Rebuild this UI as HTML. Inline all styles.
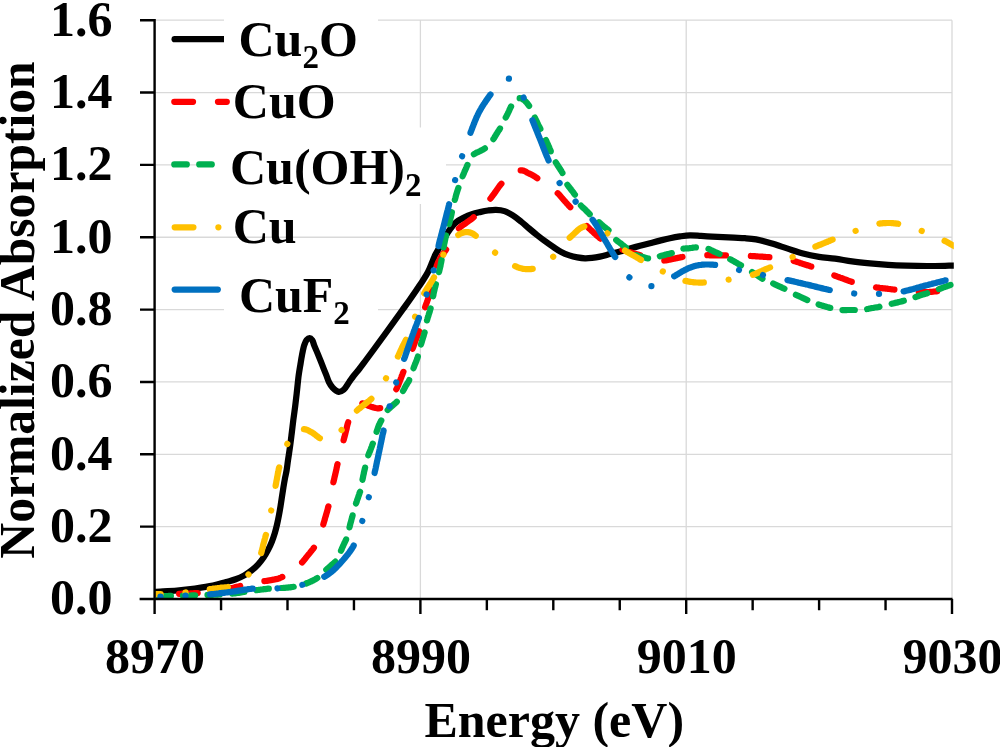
<!DOCTYPE html><html><head><meta charset="utf-8"><title>XANES</title><style>html,body{margin:0;padding:0;background:#fff;}svg{display:block;}text{font-family:"Liberation Serif",serif;font-weight:bold;fill:#000;}.gs{filter:grayscale(1);}</style></head><body>
<svg width="1000" height="747" viewBox="0 0 1000 747">
<rect width="1000" height="747" fill="#fff"/>
<path d="M154.6 526.65H952.0M154.6 454.30H952.0M154.6 381.95H952.0M154.6 309.60H952.0M154.6 237.25H952.0M154.6 164.90H952.0M154.6 92.55H952.0M154.6 20.20H952.0M420.40 20.2V599.0M686.20 20.2V599.0M952.00 20.2V599.0" stroke="#d9d9d9" stroke-width="1.3" fill="none"/>
<defs><clipPath id="pc"><rect x="154.2" y="0" width="799.6" height="603.0"/></clipPath></defs>
<g clip-path="url(#pc)" fill="none" stroke-width="6.24" stroke-linecap="round" stroke-linejoin="round">
<path d="M151.00 592.20C152.33 592.07 153.13 591.95 155.00 591.80C159.38 591.45 170.04 591.09 177.00 590.50C183.31 589.96 189.01 589.31 195.00 588.50C201.01 587.68 207.49 586.79 213.00 585.60C217.77 584.57 222.16 583.12 226.20 582.00C229.63 581.05 232.65 580.42 235.70 579.30C238.68 578.21 241.59 576.92 244.30 575.40C246.95 573.91 249.47 572.17 251.80 570.30C254.09 568.46 256.23 566.44 258.20 564.30C260.16 562.17 261.96 559.89 263.60 557.50C265.26 555.09 266.74 552.51 268.10 549.90C269.47 547.28 270.69 544.58 271.80 541.80C272.93 538.98 273.92 536.03 274.80 533.10C275.68 530.17 276.40 527.20 277.10 524.20C277.80 521.17 278.42 518.08 279.00 515.00C279.58 511.91 280.10 508.79 280.60 505.70C281.10 502.63 281.53 499.55 282.00 496.50C282.46 493.48 282.91 490.48 283.40 487.50C283.88 484.55 284.36 481.59 284.90 478.70C285.43 475.89 286.10 473.31 286.60 470.40C287.15 467.21 287.48 463.90 288.00 460.30C288.60 456.15 289.38 451.37 290.00 446.90C290.62 442.44 291.15 437.96 291.70 433.50C292.25 429.06 292.73 424.64 293.30 420.20C293.87 415.74 294.53 411.27 295.10 406.80C295.67 402.34 296.15 398.21 296.70 393.40C297.34 387.80 298.00 380.36 298.70 375.20C299.22 371.36 299.75 368.54 300.30 365.20C300.85 361.84 301.33 358.45 302.00 355.10C302.67 351.75 303.38 347.84 304.30 345.10C304.98 343.08 305.57 341.22 306.60 340.00C307.43 339.02 308.65 337.97 309.60 338.00C310.51 338.03 311.50 339.05 312.20 340.00C313.11 341.23 313.32 343.13 314.10 345.10C315.20 347.89 316.93 351.75 318.30 355.10C319.67 358.45 320.96 361.84 322.30 365.20C323.63 368.54 325.12 372.18 326.30 375.20C327.27 377.68 327.83 379.91 328.90 382.00C329.92 383.99 330.95 385.91 332.50 387.50C334.16 389.21 336.68 391.60 338.70 391.80C340.43 391.97 342.24 390.87 343.80 389.60C345.83 387.96 347.50 384.38 349.20 382.00C350.71 379.88 351.97 377.97 353.50 376.00C355.07 373.97 356.70 372.28 358.50 370.00C360.78 367.12 363.51 363.34 366.00 360.00C368.48 356.67 370.95 353.34 373.40 350.00C375.85 346.67 378.27 343.33 380.70 340.00C383.13 336.67 385.58 333.34 388.00 330.00C390.41 326.67 392.80 323.33 395.20 320.00C397.60 316.67 400.00 313.33 402.40 310.00C404.80 306.67 407.24 303.35 409.60 300.00C411.94 296.68 414.23 293.34 416.50 290.00C418.76 286.67 421.19 283.17 423.20 280.00C424.97 277.21 426.53 274.87 428.00 272.00C429.59 268.90 431.03 265.02 432.30 262.00C433.34 259.52 433.88 257.71 435.10 255.20C436.72 251.86 439.38 247.68 441.50 243.90C443.62 240.11 445.38 236.08 447.80 232.50C450.22 228.92 453.04 224.97 456.00 222.40C458.51 220.23 461.28 218.98 464.00 217.60C466.62 216.26 469.30 215.12 472.00 214.20C474.63 213.30 477.32 212.72 480.00 212.10C482.66 211.49 485.32 210.88 488.00 210.50C490.66 210.12 493.30 209.71 496.00 209.80C498.80 209.89 501.75 210.21 504.50 211.10C507.36 212.03 510.10 213.71 512.80 215.40C515.64 217.18 518.40 219.43 521.10 221.60C523.83 223.79 526.42 226.24 529.10 228.50C531.75 230.74 534.41 232.96 537.10 235.10C539.77 237.22 542.49 239.31 545.20 241.30C547.85 243.24 550.51 245.10 553.20 246.90C555.85 248.67 558.46 250.57 561.20 252.00C563.83 253.38 566.57 254.49 569.30 255.40C571.94 256.28 574.64 256.91 577.30 257.40C579.88 257.87 582.49 258.23 585.00 258.30C587.39 258.37 589.60 258.16 592.00 257.90C594.58 257.62 597.20 257.19 600.00 256.60C603.16 255.93 606.67 254.87 610.00 254.00C613.33 253.13 616.67 252.31 620.00 251.40C623.34 250.48 626.66 249.43 630.00 248.50C633.33 247.57 636.66 246.68 640.00 245.80C643.33 244.92 646.67 244.07 650.00 243.20C653.33 242.33 656.66 241.43 660.00 240.60C663.33 239.77 666.66 238.90 670.00 238.20C673.32 237.50 676.66 236.88 680.00 236.40C683.33 235.92 686.58 235.39 690.00 235.30C693.58 235.20 697.33 235.68 701.00 235.90C704.67 236.12 708.33 236.40 712.00 236.60C715.67 236.80 719.33 236.92 723.00 237.10C726.67 237.28 730.33 237.52 734.00 237.70C737.67 237.88 741.34 237.92 745.00 238.20C748.67 238.48 752.08 238.69 756.00 239.40C760.64 240.24 765.94 241.74 771.00 243.20C776.27 244.72 781.67 246.67 787.00 248.40C792.33 250.13 797.63 252.19 803.00 253.60C808.29 254.98 813.65 255.97 819.00 256.80C824.32 257.63 829.60 257.85 835.00 258.60C840.59 259.37 846.24 260.61 852.00 261.40C857.90 262.21 864.00 262.83 870.00 263.40C876.00 263.97 882.00 264.43 888.00 264.80C894.00 265.17 899.77 265.40 906.00 265.60C912.73 265.81 919.92 265.98 927.00 266.00C934.25 266.02 943.28 265.80 949.00 265.70C952.66 265.63 955.00 265.57 958.00 265.50" stroke="#000000"/>
<path d="M151.0 594.0L152.3 594.0L153.6 594.0L154.2 594.0M179.1 593.8L180.6 593.8L181.8 593.7L183.1 593.7L184.3 593.7L185.6 593.6L186.8 593.6L188.0 593.5L189.3 593.5L190.5 593.4L191.8 593.4L193.0 593.3L194.3 593.2L195.5 593.2L196.7 593.1L197.7 593.1M222.2 590.1L223.4 589.9L224.6 589.6L225.8 589.3L227.1 589.1L228.3 588.8L229.5 588.5L230.7 588.2L231.9 588.0L233.2 587.7L234.3 587.4L235.5 587.1L236.7 586.8L238.0 586.5L239.2 586.2L240.2 585.9M264.4 581.1L265.6 581.0L266.9 580.8L268.1 580.6L269.5 580.4L270.9 580.2L272.3 579.9L273.5 579.7L274.8 579.4L276.1 579.2L277.3 578.9L278.7 578.5L280.0 578.0L281.1 577.5L282.3 576.9M302.1 562.4L302.9 561.5L303.7 560.5L304.5 559.6L305.3 558.6L306.0 557.6L306.8 556.6L307.6 555.6L308.4 554.6L309.2 553.7L310.0 552.8L310.7 551.8L311.5 550.9L312.3 549.9L313.1 548.9L313.8 547.9L313.9 547.8M323.3 524.5L323.6 523.3L324.0 522.1L324.3 521.0L324.7 519.8L325.0 518.4L325.4 517.0L325.8 515.9L326.1 514.7L326.5 513.3L326.9 512.0L327.3 510.6L327.6 509.5L327.9 508.3L328.2 507.0L328.4 506.5M333.4 482.3L333.7 481.1L334.0 479.7L334.3 478.5L334.5 477.3L334.9 475.9L335.2 474.5L335.5 473.3L335.8 472.0L336.1 470.6L336.4 469.4L336.6 468.2L336.9 466.9L337.1 465.7L337.4 464.5L337.5 464.2M343.6 440.3L343.9 439.0L344.3 437.7L344.6 436.5L344.9 435.4L345.2 434.2L345.5 433.0L345.8 431.8L346.1 430.6L346.4 429.4L346.7 428.2L346.9 427.0L347.2 425.7L347.5 424.5L347.9 423.3L348.2 422.2M362.3 403.3L363.5 403.5L364.8 404.0L365.9 404.6L367.0 405.1L368.3 405.7L369.5 406.1L370.8 406.6L372.0 407.0L373.1 407.4L374.5 407.7L375.7 408.0L377.1 408.3L378.5 408.3L379.9 408.1L380.2 408.1M396.3 389.2L397.0 388.0L397.5 386.8L398.0 385.7L398.5 384.5L398.9 383.4L399.4 382.2L399.8 381.1L400.3 379.9L400.8 378.6L401.3 377.4L401.7 376.1L402.3 374.8L402.7 373.6L403.2 372.3L403.4 371.9M412.6 348.7L413.0 347.6L413.5 346.3L413.9 345.2L414.4 343.9L414.8 342.6L415.3 341.3L415.8 339.9L416.2 338.8L416.7 337.5L417.3 336.2L417.8 334.9L418.2 333.7L418.6 332.5L419.0 331.2L419.0 331.2M425.1 307.2L425.5 306.0L425.9 304.8L426.3 303.7L426.8 302.4L427.3 301.0L427.8 299.7L428.2 298.4L428.6 297.2L429.0 296.0L429.4 294.6L429.7 293.5L430.1 292.3L430.4 291.1L430.7 289.9L430.8 289.6M436.8 265.6L437.3 264.3L437.7 263.2L438.3 262.1L438.9 260.8L439.6 259.5L440.1 258.5L440.7 257.4L441.4 256.4L442.1 255.2L442.9 254.1L443.7 252.9L444.6 251.8L445.3 250.8L446.0 249.7L446.1 249.6M458.9 228.5L459.9 227.5L460.8 226.7L462.0 225.8L463.1 225.0L464.3 224.2L465.4 223.4L466.4 222.7L467.5 221.8L468.7 221.0L469.8 220.2L470.9 219.4L471.9 218.7L472.9 217.9L473.7 217.2M490.4 198.6L491.2 197.6L492.0 196.5L492.8 195.5L493.6 194.4L494.4 193.3L495.2 192.2L496.0 191.0L496.7 190.0L497.4 189.0L498.1 188.0L498.8 187.0L499.5 186.0L500.3 185.0L501.0 184.1L501.4 183.7M520.7 170.3L521.9 170.4L523.1 170.6L524.4 171.0L525.7 171.6L526.9 172.4L528.0 173.0L529.3 173.6L530.4 174.2L531.6 174.7L532.7 175.3L533.8 175.9L534.8 176.5L536.0 177.3L537.2 178.1L537.3 178.2M557.7 193.2L558.6 194.0L559.4 194.9L560.2 195.9L561.0 196.8L561.8 197.7L562.6 198.6L563.4 199.6L564.2 200.5L565.0 201.4L565.8 202.3L566.6 203.2L567.5 204.1L568.3 205.1L569.1 206.0L570.0 206.9L570.3 207.2M586.8 226.0L587.7 226.9L588.5 227.8L589.4 228.7L590.3 229.5L591.2 230.3L592.1 231.2L593.0 232.0L593.9 232.8L594.8 233.7L595.7 234.5L596.6 235.3L597.5 236.1L598.5 236.9L599.4 237.7L600.4 238.5L600.5 238.6M622.5 249.7L623.7 250.1L624.8 250.5L626.0 250.9L627.2 251.3L628.3 251.7L629.5 252.0L630.7 252.4L631.9 252.8L633.1 253.2L634.3 253.5L635.5 253.9L636.7 254.2L637.8 254.6L639.0 254.9L640.2 255.3M664.3 260.5L665.7 260.4L666.9 260.2L668.1 259.9L669.3 259.7L670.5 259.4L671.7 259.1L672.9 258.9L674.1 258.7L675.4 258.4L676.6 258.2L677.8 257.9L679.0 257.7L680.3 257.4L681.5 257.2L682.5 257.0M707.3 255.2L708.6 255.2L709.9 255.3L711.1 255.3L712.3 255.3L713.6 255.3L714.8 255.4L716.1 255.4L717.3 255.4L718.6 255.4L719.8 255.4L721.1 255.4L722.3 255.4L723.6 255.4L724.8 255.4L725.9 255.4M750.9 256.0L752.3 256.1L753.6 256.1L754.8 256.2L756.1 256.3L757.4 256.4L758.7 256.5L760.0 256.6L761.2 256.7L762.5 256.7L763.7 256.8L765.0 256.9L766.3 257.0L767.5 257.1L768.8 257.2L769.4 257.2M793.7 260.9L795.0 261.3L796.2 261.6L797.3 262.0L798.5 262.4L799.7 262.8L800.9 263.3L802.0 263.6L803.2 264.0L804.4 264.4L805.6 264.7L806.7 265.1L807.9 265.4L809.1 265.8L810.3 266.2L811.3 266.5M834.3 275.5L835.6 275.9L836.8 276.4L837.9 276.8L839.1 277.2L840.2 277.6L841.4 278.0L842.5 278.4L843.7 278.9L844.8 279.3L846.0 279.7L847.1 280.1L848.3 280.6L849.4 281.0L850.6 281.4L851.7 281.8L851.8 281.8M876.0 287.4L877.2 287.6L878.4 287.7L879.7 287.9L880.9 288.0L882.1 288.1L883.3 288.3L884.6 288.4L885.8 288.6L887.0 288.7L888.2 288.9L889.5 289.0L890.7 289.2L891.9 289.3L893.2 289.5L894.4 289.6L894.4 289.6M918.8 292.1L920.0 292.1L921.3 292.1L922.5 292.1L923.8 292.1L925.0 292.1L926.3 292.1L927.5 292.0L928.7 292.0L930.1 291.9L931.6 291.8L933.0 291.7L934.4 291.5L935.6 291.4L936.9 291.3L937.3 291.2" stroke="#ff0000"/>
<path d="M158.6 596.0L159.8 596.0L161.1 596.0L162.4 596.0L163.7 596.0L165.0 596.0L166.3 596.0L167.7 596.0L168.9 595.9L170.2 595.9L170.9 595.9M183.0 595.7L184.2 595.6L185.4 595.6L186.7 595.6L188.1 595.5L189.5 595.5L190.8 595.5L192.1 595.4L193.3 595.4L194.5 595.4L195.2 595.3M207.5 594.9L208.7 594.9L210.1 594.8L211.4 594.8L212.6 594.8L213.8 594.7L215.1 594.7L216.3 594.6L217.6 594.6L218.9 594.5L219.8 594.5M232.1 593.6L233.5 593.4L234.8 593.3L236.1 593.1L237.3 592.9L238.6 592.8L239.9 592.6L241.1 592.4L242.4 592.2L243.7 592.0L244.4 591.9M256.6 590.2L257.9 590.0L259.1 589.8L260.3 589.7L261.6 589.5L262.8 589.4L264.0 589.2L265.4 589.1L266.8 588.9L268.2 588.7L268.8 588.7M281.1 588.0L282.5 588.0L283.7 587.9L284.9 587.8L286.4 587.7L287.6 587.6L288.8 587.4L290.1 587.3L291.4 587.1L292.6 587.0L293.7 586.8M306.1 583.5L307.3 583.0L308.4 582.6L309.5 582.1L310.8 581.5L312.0 581.0L313.2 580.4L314.3 579.8L315.5 579.2L316.7 578.4L317.3 578.0M326.3 569.8L327.2 568.9L328.1 568.1L329.2 567.2L330.1 566.4L331.0 565.5L331.9 564.7L332.8 564.0L333.8 563.2L334.7 562.3L335.4 561.6M341.0 550.7L341.6 549.5L342.0 548.3L342.5 547.2L343.0 546.1L343.5 545.0L344.1 543.7L344.7 542.5L345.3 541.2L345.8 540.1L346.1 539.4M349.5 527.4L349.8 526.1L350.1 524.8L350.4 523.6L350.7 522.4L351.1 521.2L351.4 519.9L351.7 518.7L352.1 517.4L352.4 516.2L352.6 515.4M356.0 503.5L356.4 502.4L356.8 501.2L357.2 499.9L357.7 498.6L358.1 497.5L358.5 496.1L359.0 494.8L359.5 493.4L359.8 492.2L360.0 491.9M362.5 479.8L362.7 478.6L363.0 477.3L363.2 476.0L363.5 474.8L363.8 473.6L364.0 472.3L364.3 471.1L364.6 469.8L364.9 468.5L365.1 467.6M368.3 455.3L368.7 454.2L369.2 452.8L369.8 451.6L370.3 450.3L370.8 449.0L371.3 447.6L371.8 446.4L372.2 445.1L372.7 443.9L372.8 443.6M376.6 431.8L377.0 430.6L377.4 429.4L377.8 428.2L378.2 427.0L378.7 425.7L379.3 424.5L379.8 423.4L380.4 422.1L381.1 420.9L381.3 420.5M387.7 410.0L388.5 409.1L389.4 408.3L390.4 407.5L391.3 406.7L392.2 405.9L393.3 404.9L394.3 404.0L395.4 403.1L396.3 402.2L396.8 401.7M403.0 391.0L403.7 389.8L404.3 388.7L404.9 387.5L405.6 386.2L406.2 385.2L407.0 384.0L407.7 382.8L408.4 381.8L409.0 380.6L409.2 380.1M413.5 368.2L413.9 367.1L414.4 365.8L414.8 364.7L415.4 363.4L415.9 362.1L416.4 360.8L416.9 359.5L417.4 358.2L417.8 356.9L417.9 356.5M421.0 344.5L421.4 343.1L421.8 341.9L422.2 340.5L422.6 339.2L422.9 338.0L423.4 336.7L423.8 335.3L424.1 334.1L424.5 332.8L424.6 332.5M427.0 320.4L427.4 319.0L427.7 317.8L428.2 316.4L428.6 315.1L428.9 313.9L429.4 312.6L429.8 311.3L430.1 310.1L430.5 308.7L430.6 308.4M433.1 296.3L433.4 295.0L433.6 293.6L433.9 292.3L434.2 291.0L434.5 289.7L434.8 288.4L435.2 287.0L435.5 285.8L435.8 284.6L435.9 284.2M439.0 272.1L439.3 270.8L439.6 269.5L439.9 268.3L440.2 267.1L440.5 265.9L440.7 264.6L440.9 263.4L441.2 262.2L441.4 261.0L441.6 259.9M443.6 247.4L443.9 246.0L444.1 244.8L444.3 243.6L444.6 242.4L444.8 241.2L445.1 240.0L445.3 238.8L445.6 237.5L445.9 236.3L446.1 235.5M449.0 224.1L449.4 222.8L449.7 221.6L450.0 220.3L450.3 219.1L450.6 217.9L450.9 216.7L451.2 215.5L451.5 214.3L451.7 213.1L451.9 212.2M454.8 199.9L455.2 198.6L455.5 197.4L455.8 196.2L456.1 195.0L456.5 193.8L456.9 192.6L457.2 191.4L457.6 190.2L458.0 189.0L458.4 187.9M462.6 176.3L463.0 175.2L463.5 174.1L464.1 172.7L464.6 171.4L465.2 170.1L465.8 168.9L466.3 167.7L466.8 166.4L467.4 165.2L467.5 164.9M473.9 154.3L474.9 153.6L476.1 152.9L477.3 152.3L478.6 151.8L479.8 151.2L480.9 150.6L482.0 150.1L483.1 149.5L484.1 148.9L484.9 148.4M493.4 139.1L494.2 137.9L494.8 136.9L495.4 135.8L496.1 134.7L496.7 133.7L497.5 132.5L498.2 131.3L498.9 130.3L499.6 129.2L500.0 128.5M505.7 117.5L506.3 116.4L506.9 115.3L507.5 114.1L508.1 112.8L508.7 111.6L509.2 110.5L509.7 109.3L510.2 108.2L510.8 107.1L511.1 106.5M519.7 98.2L521.0 98.3L522.3 98.9L523.3 99.6L524.3 100.3L525.3 101.2L526.3 102.2L527.1 103.1L527.8 104.1L528.6 105.2L529.1 105.9M534.8 117.5L535.3 118.6L535.8 119.7L536.5 121.0L537.1 122.2L537.7 123.5L538.3 124.8L538.9 126.0L539.6 127.3L540.2 128.4L540.4 128.9M545.9 140.0L546.4 141.1L546.9 142.3L547.5 143.5L548.0 144.8L548.6 146.1L549.2 147.4L549.7 148.7L550.3 150.0L550.8 151.2L550.8 151.3M555.8 162.4L556.5 163.5L557.1 164.5L557.8 165.6L558.5 166.6L559.1 167.6L559.8 168.6L560.4 169.6L561.1 170.6L561.7 171.7L562.4 172.7L562.5 173.0M567.4 184.7L568.1 185.7L568.8 186.7L569.7 187.8L570.6 188.9L571.3 189.9L572.2 191.0L573.1 192.2L573.9 193.3L574.6 194.3L574.9 194.7M580.9 205.5L581.8 206.5L582.7 207.3L583.6 208.1L584.5 208.9L585.4 209.8L586.3 210.7L587.1 211.6L588.0 212.4L588.8 213.3L589.7 214.2L589.7 214.2M599.0 222.2L599.9 223.0L600.8 223.9L601.7 224.7L602.7 225.5L603.6 226.3L604.5 227.1L605.5 227.8L606.5 228.6L607.4 229.3L608.4 230.1L608.5 230.2M616.2 240.0L617.2 240.9L618.2 241.6L619.1 242.3L620.1 243.0L621.1 243.8L622.2 244.7L623.3 245.6L624.5 246.5L625.4 247.2L626.0 247.7M636.1 255.1L637.3 255.5L638.5 255.9L639.6 256.2L640.8 256.5L642.0 256.7L643.2 257.1L644.3 257.4L645.5 257.8L646.7 258.1L647.9 258.3L648.1 258.3M659.9 256.2L661.3 255.8L662.5 255.5L663.7 255.2L664.9 254.9L666.0 254.5L667.2 254.2L668.4 254.0L669.6 253.7L670.8 253.4L671.8 253.1M683.4 248.7L684.8 248.5L686.0 248.4L687.2 248.4L688.4 248.3L689.6 248.2L690.8 248.0L692.0 247.9L693.2 247.7L694.4 247.5L695.7 247.4L695.9 247.4M708.5 248.9L709.8 249.4L710.9 250.0L712.0 250.5L713.1 251.1L714.2 251.6L715.3 252.1L716.5 252.6L717.6 253.1L718.7 253.6L719.6 254.0M730.2 259.3L731.4 259.9L732.4 260.5L733.5 261.1L734.6 261.7L735.6 262.3L736.9 263.0L738.1 263.7L739.4 264.4L740.4 265.0L741.0 265.3M752.1 272.0L753.1 272.7L754.2 273.4L755.3 274.1L756.5 274.9L757.7 275.6L758.9 276.4L760.0 277.2L761.3 278.0L762.3 278.6L762.4 278.7M773.2 283.5L774.3 284.1L775.4 284.6L776.5 285.1L777.6 285.6L778.7 286.1L779.8 286.6L781.1 287.2L782.4 287.8L783.6 288.3L784.4 288.7M795.9 294.8L797.1 295.3L798.2 295.8L799.4 296.4L800.7 297.0L802.0 297.6L803.1 298.1L804.2 298.6L805.3 299.2L806.4 299.7L807.3 300.1M818.6 304.5L819.9 304.9L821.1 305.3L822.3 305.6L823.4 305.9L824.6 306.3L825.8 306.6L827.0 307.0L828.2 307.3L829.3 307.7L830.3 307.9M842.5 310.1L843.8 310.1L845.1 310.1L846.3 310.1L847.5 310.0L848.7 310.0L849.9 310.0L851.1 310.0L852.3 310.0L853.6 310.0L854.8 310.0L854.8 310.0M867.1 309.0L868.4 308.8L869.8 308.5L871.2 308.2L872.6 308.0L873.8 307.8L875.2 307.5L876.6 307.3L878.0 307.1L879.2 306.9L879.4 306.8M891.7 303.8L892.9 303.5L894.1 303.2L895.3 302.9L896.5 302.7L897.7 302.4L898.8 302.1L900.0 301.8L901.4 301.4L902.6 301.1L903.8 300.8L903.8 300.8M915.5 297.1L916.7 296.6L917.9 296.2L919.0 295.8L920.1 295.4L921.3 295.0L922.7 294.6L924.0 294.2L925.4 293.8L926.6 293.5L927.2 293.3M938.9 289.1L940.1 288.7L941.2 288.3L942.4 287.8L943.5 287.4L944.7 287.0L945.9 286.6L947.1 286.2L948.3 285.7L949.6 285.3L950.6 284.9" stroke="#00b050"/>
<path d="M151.0 594.2L152.4 594.2L153.8 594.2L155.1 594.1L156.5 594.1L157.8 594.1L159.1 594.0L160.4 594.0L160.6 594.0M185.50 592.50l0.020 -0.002M209.7 589.2L211.0 589.0L212.2 588.9L213.4 588.7L214.8 588.5L216.2 588.3L217.6 588.2L218.8 588.0L220.0 587.9L221.3 587.7L222.5 587.6L223.7 587.5L225.0 587.4L226.2 587.3L227.4 587.1L227.9 587.0M248.50 574.50l0.013 -0.015M261.2 553.0L261.6 551.7L261.9 550.5L262.2 549.3L262.5 548.1L262.8 547.0L263.0 545.8L263.3 544.6L263.6 543.4L264.0 542.1L264.4 540.7L264.7 539.4L265.1 538.0L265.4 536.8L265.7 535.5L265.9 534.9M271.20 510.50l0.004 -0.020M275.6 485.9L275.8 484.5L276.1 483.2L276.3 482.0L276.5 480.7L276.8 479.5L277.0 478.2L277.2 476.9L277.5 475.7L277.7 474.5L277.9 473.3L278.2 472.1L278.5 470.7L278.7 469.3L279.0 468.0L279.2 467.5M287.30 443.90l0.010 -0.018M303.9 429.1L305.2 429.3L306.5 429.7L307.8 430.2L308.9 430.8L310.0 431.4L311.1 432.0L312.2 432.6L313.4 433.4L314.4 434.1L315.4 434.9L316.4 435.7L317.4 436.4L318.4 437.2L319.5 438.0L319.9 438.2M341.60 430.00l0.013 -0.015M356.9 410.6L357.9 409.6L358.9 408.8L359.9 408.1L360.8 407.3L361.8 406.5L362.8 405.8L363.7 405.0L364.7 404.2L365.6 403.5L366.6 402.7L367.6 401.9L368.6 401.2L369.6 400.4L370.5 399.6L371.4 398.8L371.4 398.8M386.00 378.30l0.010 -0.017M397.9 356.5L398.5 355.3L399.0 354.2L399.5 353.1L400.0 352.0L400.5 350.9L401.0 349.8L401.5 348.7L402.0 347.6L402.6 346.3L403.3 345.1L403.9 343.9L404.6 342.6L405.1 341.5L405.7 340.3L406.0 339.7M415.10 316.70l0.007 -0.019M424.2 293.3L424.9 292.1L425.5 291.0L426.2 289.9L426.9 288.8L427.7 287.6L428.4 286.5L429.2 285.3L429.9 284.1L430.7 282.9L431.4 281.8L432.2 280.6L432.8 279.5L433.4 278.4L434.0 277.4M443.40 254.60l0.009 -0.018M458.3 235.0L459.3 234.3L460.5 233.6L461.8 233.1L462.9 232.7L464.1 232.3L465.3 232.1L466.5 232.0L468.0 232.1L469.2 232.3L470.4 232.6L471.5 233.0L472.8 233.6L474.0 234.4L474.9 235.2L475.7 235.8M495.10 252.60l0.015 0.013M515.1 266.2L516.3 266.7L517.4 267.2L518.6 267.6L519.8 268.0L521.0 268.3L522.1 268.6L523.3 268.8L524.5 269.0L525.7 269.1L527.0 269.2L528.2 269.2L529.4 269.2L530.7 269.1L531.9 268.9L532.7 268.8M553.20 256.70l0.014 -0.014M569.7 237.8L570.7 236.8L571.6 236.0L572.4 235.2L573.5 234.2L574.5 233.3L575.4 232.4L576.3 231.6L577.2 230.7L578.1 229.9L579.2 229.0L580.2 228.3L581.3 227.7L582.4 227.1L583.5 226.7L584.3 226.4M607.40 233.40l0.016 0.012M625.0 250.6L626.1 251.4L627.1 252.0L628.2 252.6L629.3 253.2L630.4 253.8L631.5 254.4L632.6 255.0L633.6 255.6L634.7 256.2L635.8 256.8L636.8 257.5L637.9 258.1L639.0 258.7L640.0 259.4L641.0 259.9M662.80 271.40l0.018 0.009M685.4 280.9L686.7 281.1L687.9 281.4L689.1 281.6L690.3 281.8L691.6 282.0L692.8 282.1L694.0 282.3L695.2 282.4L696.4 282.5L697.7 282.5L698.9 282.6L700.1 282.6L701.3 282.6L702.5 282.6L703.8 282.5L703.8 282.5M728.60 279.60l0.020 -0.003M752.9 274.7L754.1 274.3L755.3 273.8L756.4 273.3L757.5 272.8L758.6 272.3L759.7 271.8L760.8 271.3L762.0 270.8L763.1 270.3L764.2 269.9L765.3 269.4L766.4 268.9L767.6 268.5L768.7 268.0L769.8 267.5L770.1 267.4M792.60 257.00l0.018 -0.009M815.4 246.6L816.5 246.1L817.7 245.7L818.8 245.2L820.0 244.8L821.1 244.3L822.3 243.8L823.4 243.4L824.6 242.9L825.7 242.4L826.8 242.0L828.0 241.5L829.1 241.0L830.3 240.5L831.4 240.0L832.6 239.6L832.6 239.6M855.60 230.90l0.019 -0.007M879.4 223.6L880.7 223.4L881.9 223.3L883.1 223.2L884.4 223.1L885.6 223.1L886.8 223.0L888.1 223.0L889.3 223.0L890.5 223.0L891.7 223.1L893.0 223.2L894.2 223.3L895.4 223.4L896.6 223.6L897.9 223.7L898.1 223.8M921.70 230.90l0.018 0.008M944.6 240.8L945.9 241.4L947.1 242.1L948.2 242.7L949.4 243.4L950.4 244.0L951.6 244.6L952.8 245.3L954.0 245.9L955.2 246.6L956.0 247.0" stroke="#ffc000"/>
<path d="M160.50 596.50l0.020 -0.001M185.50 595.50l0.020 -0.001M210.0 594.3L211.4 594.2L212.7 594.1L213.9 594.0L215.1 593.8L216.3 593.7L217.6 593.5L218.8 593.4L220.1 593.2L221.3 593.1L222.5 592.9L223.8 592.8L225.0 592.6L226.2 592.5L227.5 592.3L228.7 592.1L229.9 592.0L231.2 591.8L232.4 591.7L233.6 591.5L234.8 591.3L236.1 591.1L237.3 590.9L238.5 590.7L239.8 590.5L241.0 590.3L242.2 590.1L243.4 589.9L244.7 589.7L245.9 589.5L247.1 589.4L248.3 589.2L249.6 589.0L250.8 588.9L252.0 588.7L252.8 588.7M277.50 588.30l0.020 -0.002M302.30 584.80l0.020 -0.004M324.3 576.7L325.5 576.0L326.6 575.3L327.6 574.7L328.6 574.0L329.6 573.2L330.6 572.5L331.5 571.8L332.4 571.0L333.4 570.2L334.3 569.4L335.2 568.5L336.0 567.7L336.9 566.8L337.7 565.9L338.6 565.0L339.5 564.1L340.3 563.2L341.1 562.3L341.9 561.3L342.8 560.4L343.6 559.4L344.4 558.5L345.2 557.5L346.0 556.5L346.8 555.5L347.6 554.6L348.3 553.6L349.1 552.6L349.8 551.6L350.5 550.6L351.2 549.6L351.9 548.6L352.5 547.6L353.2 546.5L353.7 545.5M362.30 521.00l0.005 -0.019M368.80 497.20l0.005 -0.019M374.6 473.0L374.8 471.8L375.1 470.6L375.4 469.4L375.7 468.1L375.9 466.9L376.2 465.7L376.4 464.5L376.7 463.3L376.9 462.0L377.2 460.8L377.5 459.6L377.7 458.4L378.0 457.2L378.2 455.9L378.5 454.7L378.7 453.5L379.0 452.3L379.3 451.1L379.5 449.9L379.8 448.6L380.0 447.4L380.3 446.2L380.5 445.0L380.8 443.8L381.0 442.6L381.3 441.4L381.5 440.2L381.8 439.0L382.0 437.8L382.3 436.5L382.5 435.3L382.8 434.1L383.1 432.9L383.4 431.7L383.6 430.5M389.60 406.40l0.005 -0.019M396.20 382.50l0.006 -0.019M404.2 358.8L404.7 357.6L405.1 356.4L405.5 355.2L405.9 354.0L406.3 352.9L406.7 351.7L407.1 350.5L407.5 349.4L407.9 348.2L408.3 347.0L408.7 345.9L409.1 344.7L409.5 343.5L409.9 342.4L410.3 341.2L410.7 340.1L411.2 338.9L411.6 337.7L412.0 336.6L412.4 335.4L412.9 334.2L413.3 333.1L413.7 331.9L414.2 330.7L414.6 329.6L415.0 328.4L415.5 327.3L415.9 326.1L416.4 324.9L416.8 323.8L417.2 322.6L417.7 321.4L418.1 320.3L418.5 319.1L418.9 318.0M426.60 294.50l0.006 -0.019M433.60 270.40l0.005 -0.019M438.5 246.2L438.7 245.0L439.0 243.8L439.3 242.6L439.6 241.3L439.9 240.1L440.2 238.9L440.6 237.7L440.9 236.5L441.2 235.3L441.5 234.1L441.8 233.0L442.1 231.8L442.4 230.6L442.7 229.4L443.1 228.2L443.4 227.0L443.7 225.8L444.0 224.6L444.3 223.4L444.6 222.2L444.9 221.0L445.2 219.8L445.5 218.6L445.8 217.4L446.1 216.2L446.4 215.0L446.7 213.8L447.0 212.6L447.3 211.4L447.7 210.1L448.0 208.9L448.3 207.7L448.6 206.5L448.9 205.2L449.1 204.2M455.10 180.10l0.005 -0.019M462.10 156.20l0.006 -0.019M470.5 132.8L470.9 131.6L471.4 130.4L471.8 129.2L472.3 128.0L472.7 126.9L473.2 125.7L473.6 124.5L474.1 123.4L474.5 122.2L475.0 121.0L475.5 119.9L476.0 118.8L476.4 117.6L476.9 116.5L477.5 115.4L478.0 114.3L478.5 113.2L479.1 112.1L479.7 111.0L480.3 109.9L481.0 108.7L481.6 107.6L482.3 106.5L483.0 105.4L483.7 104.3L484.4 103.3L485.1 102.2L485.8 101.1L486.5 100.1L487.2 99.1L487.9 98.1L488.6 97.1L489.4 95.9L490.3 94.8L490.5 94.5M508.90 78.70l0.020 0.002M523.60 97.60l0.009 0.018M532.4 120.3L533.0 121.6L533.4 122.8L533.9 124.0L534.4 125.2L534.8 126.3L535.3 127.5L535.8 128.6L536.2 129.8L536.7 130.9L537.2 132.1L537.6 133.2L538.1 134.4L538.5 135.5L539.0 136.6L539.5 137.8L539.9 138.9L540.4 140.1L540.9 141.3L541.3 142.4L541.8 143.6L542.2 144.7L542.7 145.9L543.1 147.0L543.5 148.1L544.0 149.3L544.4 150.4L544.9 151.6L545.4 152.7L545.8 153.9L546.3 155.1L546.8 156.2L547.3 157.4L547.8 158.6L548.3 159.8L548.6 160.5M559.60 183.00l0.011 0.017M575.60 201.60l0.013 0.015M592.6 219.7L593.3 220.7L594.1 221.7L594.8 222.8L595.4 223.8L596.1 224.8L596.7 225.9L597.4 227.0L598.0 228.0L598.6 229.1L599.2 230.2L599.8 231.2L600.4 232.3L601.0 233.4L601.7 234.5L602.3 235.5L602.9 236.6L603.5 237.7L604.2 238.7L604.8 239.8L605.4 240.8L606.1 241.9L606.7 243.0L607.3 244.0L607.9 245.1L608.5 246.1L609.2 247.2L609.8 248.3L610.4 249.3L611.1 250.4L611.7 251.5L612.3 252.5L613.0 253.6L613.6 254.6L614.3 255.7L615.0 256.8L615.2 257.0M629.40 277.40l0.016 0.012M651.40 286.20l0.020 0.001M674.2 276.3L675.4 275.6L676.4 274.9L677.5 274.3L678.6 273.6L679.7 272.9L680.8 272.3L681.9 271.6L683.0 271.0L684.1 270.4L685.2 269.8L686.3 269.3L687.6 268.7L688.7 268.2L689.9 267.7L691.1 267.3L692.2 266.9L693.3 266.5L694.7 266.1L696.1 265.7L697.3 265.5L698.5 265.2L699.7 265.0L701.1 264.9L702.5 264.7L703.9 264.6L705.4 264.5L706.6 264.5L707.8 264.5L709.0 264.5L710.3 264.6L711.6 264.6L712.8 264.7L714.1 264.8L715.1 264.9M739.00 270.00l0.020 0.004M763.00 275.00l0.020 0.004M787.5 280.1L788.7 280.3L790.0 280.6L791.2 280.9L792.4 281.2L793.6 281.4L794.8 281.7L796.0 282.0L797.2 282.3L798.4 282.6L799.6 282.8L800.8 283.1L802.0 283.4L803.2 283.7L804.5 284.0L805.7 284.3L806.9 284.5L808.1 284.8L809.3 285.1L810.5 285.4L811.7 285.7L812.9 286.0L814.1 286.3L815.3 286.6L816.5 286.9L817.7 287.2L818.9 287.5L820.1 287.8L821.4 288.1L822.6 288.4L823.8 288.7L825.0 289.0L826.2 289.2L827.4 289.5L828.6 289.8L829.8 290.0M854.20 293.50l0.020 0.002M879.00 293.90l0.020 -0.001M903.6 291.3L904.8 291.1L906.0 290.8L907.2 290.5L908.5 290.2L909.7 289.9L910.9 289.6L912.1 289.3L913.3 289.0L914.4 288.6L915.6 288.3L916.8 287.9L918.0 287.6L919.2 287.3L920.4 286.9L921.6 286.6L922.8 286.2L924.0 285.9L925.2 285.6L926.4 285.3L927.7 285.0L928.9 284.6L930.2 284.3L931.5 284.0L932.8 283.6L934.1 283.3L935.4 283.0L936.6 282.6L937.9 282.3L939.1 282.0L940.3 281.7L941.5 281.4L942.9 281.0L944.2 280.7L945.4 280.3L945.6 280.3" stroke="#0070c0"/>
</g>
<path d="M154.6 19.1V614.0M139.6 599.0H952.5M140.0 599.00H154.6M140.0 526.65H154.6M140.0 454.30H154.6M140.0 381.95H154.6M140.0 309.60H154.6M140.0 237.25H154.6M140.0 164.90H154.6M140.0 92.55H154.6M140.0 20.20H154.6M154.60 599.0V614.0M221.05 599.0V610.2M287.50 599.0V610.2M353.95 599.0V610.2M420.40 599.0V614.0M486.85 599.0V610.2M553.30 599.0V610.2M619.75 599.0V610.2M686.20 599.0V614.0M752.65 599.0V610.2M819.10 599.0V610.2M885.55 599.0V610.2M952.00 599.0V614.0" stroke="#000" stroke-width="2.4" fill="none"/>
<text x="112.5" y="614.4" font-size="50" text-anchor="end">0.0</text>
<text x="112.5" y="542.0" font-size="50" text-anchor="end">0.2</text>
<text x="112.5" y="469.7" font-size="50" text-anchor="end">0.4</text>
<text x="112.5" y="397.3" font-size="50" text-anchor="end">0.6</text>
<text x="112.5" y="325.0" font-size="50" text-anchor="end">0.8</text>
<text x="112.5" y="252.7" font-size="50" text-anchor="end">1.0</text>
<text x="112.5" y="180.3" font-size="50" text-anchor="end">1.2</text>
<text x="112.5" y="108.0" font-size="50" text-anchor="end">1.4</text>
<text x="112.5" y="35.6" font-size="50" text-anchor="end">1.6</text>
<text x="155.1" y="672.8" font-size="50" text-anchor="middle">8970</text>
<text x="420.9" y="672.8" font-size="50" text-anchor="middle">8990</text>
<text x="686.7" y="672.8" font-size="50" text-anchor="middle">9010</text>
<text x="952.5" y="672.8" font-size="50" text-anchor="middle">9030</text>
<text x="424.4" y="736.6" font-size="50">Energy (eV)</text>
<text transform="translate(34 310) rotate(-90)" font-size="49.6" text-anchor="middle">Normalized Absorption</text>
<rect x="224.0" y="8.0" width="154.0" height="66.0" fill="#fff"/>
<rect x="215.0" y="127.5" width="231.0" height="76.5" fill="#fff"/>
<rect x="224.0" y="268.0" width="154.0" height="62.0" fill="#fff"/>
<g fill="none" stroke-width="6.24" stroke-linecap="round">
<path d="M174.6 39.2H228" stroke="#000"/>
<path d="M174.3 101.8H226.8" stroke="#ff0000" stroke-dasharray="18.72 24.96"/>
<path d="M174.3 164.4H215" stroke="#00b050" stroke-dasharray="12.48 12.48"/>
<path d="M174.7 227.3H222" stroke="#ffc000" stroke-dasharray="18.72 24.96 0 24.96"/>
<path d="M174.7 289.6H217.8" stroke="#0070c0"/>
</g>
<rect x="224" y="8" width="154" height="66" fill="#fff"/>
<text class="gs" x="238.5" y="56" font-size="50">Cu<tspan font-size="33" dy="12">2</tspan><tspan dy="-12">O</tspan></text>
<text x="232.8" y="117.5" font-size="50">CuO</text>
<text class="gs" x="230" y="183.6" font-size="50">Cu(OH)<tspan font-size="33" dy="12">2</tspan></text>
<text x="232.7" y="242.5" font-size="50">Cu</text>
<text class="gs" x="238.9" y="312.2" font-size="50">CuF<tspan font-size="33" dy="12">2</tspan></text>
</svg></body></html>
